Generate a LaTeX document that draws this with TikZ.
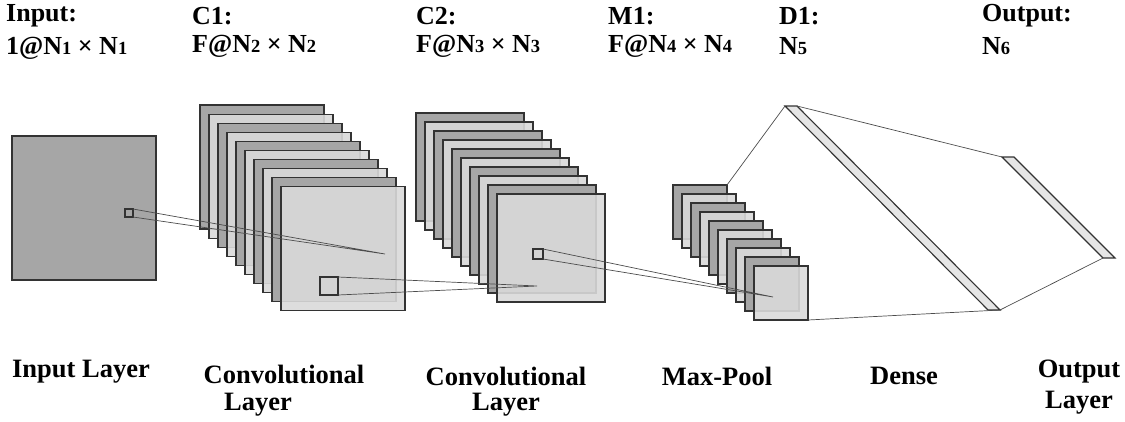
\documentclass[tikz,border=0pt]{standalone}
\usepackage{fontspec}
\setmainfont{Liberation Serif}
\newcommand{\sbs}[1]{{\fontsize{18.5}{20}\selectfont #1}}
\begin{document}
\begin{tikzpicture}[x=1pt,y=-1pt,
  fm/.style={draw=black!80,line width=1.1pt,inner sep=0,outer sep=0,anchor=north west},
  dk/.style={fm,fill=black!35},
  lt/.style={fm,fill=black!15,fill opacity=0.9},
  ln/.style={draw=black!70,line width=0.7pt},
  lab/.style={font=\fontsize{26}{30}\selectfont\bfseries,inner sep=0},
  blab/.style={font=\fontsize{26.5}{30}\selectfont\bfseries,inner sep=0},
  bar/.style={draw=black!80,line width=1.1pt,fill=black!10}]
\useasboundingbox (0,0) rectangle (1125,421);
% input
\node[fm,fill=black!35,minimum size=144pt] (in) at (12,136) {};
\node[fm,fill=black!35,minimum size=8pt] (ins) at (125,209) {};
% C1
\foreach \i in {0,...,9}{
  \pgfmathsetmacro\x{200+9*\i}\pgfmathsetmacro\y{105+9.1*\i}
  \ifodd\i \node[lt,minimum size=124pt] (c1-\i) at (\x,\y) {};
  \else \node[dk,minimum size=124pt] (c1-\i) at (\x,\y) {}; \fi}
\coordinate (c1p) at (385,254);
\node[fm,minimum size=18pt] (c1s) at (320,277) {};
% C2
\foreach \i in {0,...,9}{
  \pgfmathsetmacro\x{416+9*\i}\pgfmathsetmacro\y{113+9*\i}
  \ifodd\i \node[lt,minimum size=108pt] (c2-\i) at (\x,\y) {};
  \else \node[dk,minimum size=108pt] (c2-\i) at (\x,\y) {}; \fi}
\coordinate (c2p) at (537,286);
\node[fm,minimum size=10pt] (c2s) at (533,249) {};
% M1
\foreach \i in {0,...,9}{
  \pgfmathsetmacro\x{673+9*\i}\pgfmathsetmacro\y{185+9*\i}
  \ifodd\i \node[lt,minimum size=54pt] (m-\i) at (\x,\y) {};
  \else \node[dk,minimum size=54pt] (m-\i) at (\x,\y) {}; \fi}
\coordinate (mp) at (773,297);
% connectors
\draw[ln] (ins.north east) -- (c1p) -- (ins.south east);
\draw[ln] (c1s.north east) -- (c2p) -- (c1s.south east);
\draw[ln] (c2s.north east) -- (mp) -- (c2s.south east);
% dense
\coordinate (d1) at (785,106); \coordinate (d2) at (797,106);
\coordinate (d3) at (1000,310); \coordinate (d4) at (988,310);
\draw[bar] (d1) -- (d2) -- (d3) -- (d4) -- cycle;
\coordinate (o1) at (1002,157); \coordinate (o2) at (1014,157);
\coordinate (o3) at (1115,258); \coordinate (o4) at (1103,258);
\draw[bar] (o1) -- (o2) -- (o3) -- (o4) -- cycle;
\draw[ln] (m-0.north east) -- (d1);
\draw[ln] (m-9.south east) -- (d3);
\draw[ln] (d2) -- (o1);
\draw[ln] (d3) -- (o4);
% labels
\node[lab,anchor=west] (t1) at (6,16) {Input:};
\node[lab,anchor=west] (t2) at (6,48) {1@N\sbs{1} × N\sbs{1}};
\node[lab,anchor=west] (t3) at (192,16) {C1:};
\node[lab,anchor=west] (t4) at (192,46) {F@N\sbs{2} × N\sbs{2}};
\node[lab,anchor=west] (t5) at (416,16) {C2:};
\node[lab,anchor=west] (t6) at (416,46) {F@N\sbs{3} × N\sbs{3}};
\node[lab,anchor=west] (t7) at (608,16) {M1:};
\node[lab,anchor=west] (t8) at (608,46) {F@N\sbs{4} × N\sbs{4}};
\node[lab,anchor=west] (t9) at (779,16) {D1:};
\node[lab,anchor=west] (t10) at (779,46) {N\sbs{5}};
\node[lab,anchor=west] (t11) at (982,16) {Output:};
\node[lab,anchor=west] (t12) at (982,46) {N\sbs{6}};
\node[blab] (b1) at (81,372) {Input Layer};
\node[blab] (b2) at (284,374) {Convolutional};
\node[blab] (b3) at (258,405) {Layer};
\node[blab] (b4) at (506,376) {Convolutional};
\node[blab] (b5) at (506,405) {Layer};
\node[blab] (b6) at (717,376) {Max-Pool};
\node[blab] (b7) at (904,376) {Dense};
\node[blab] (b8) at (1079,372) {Output};
\node[blab] (b9) at (1079,403) {Layer};
\end{tikzpicture}
\end{document}
